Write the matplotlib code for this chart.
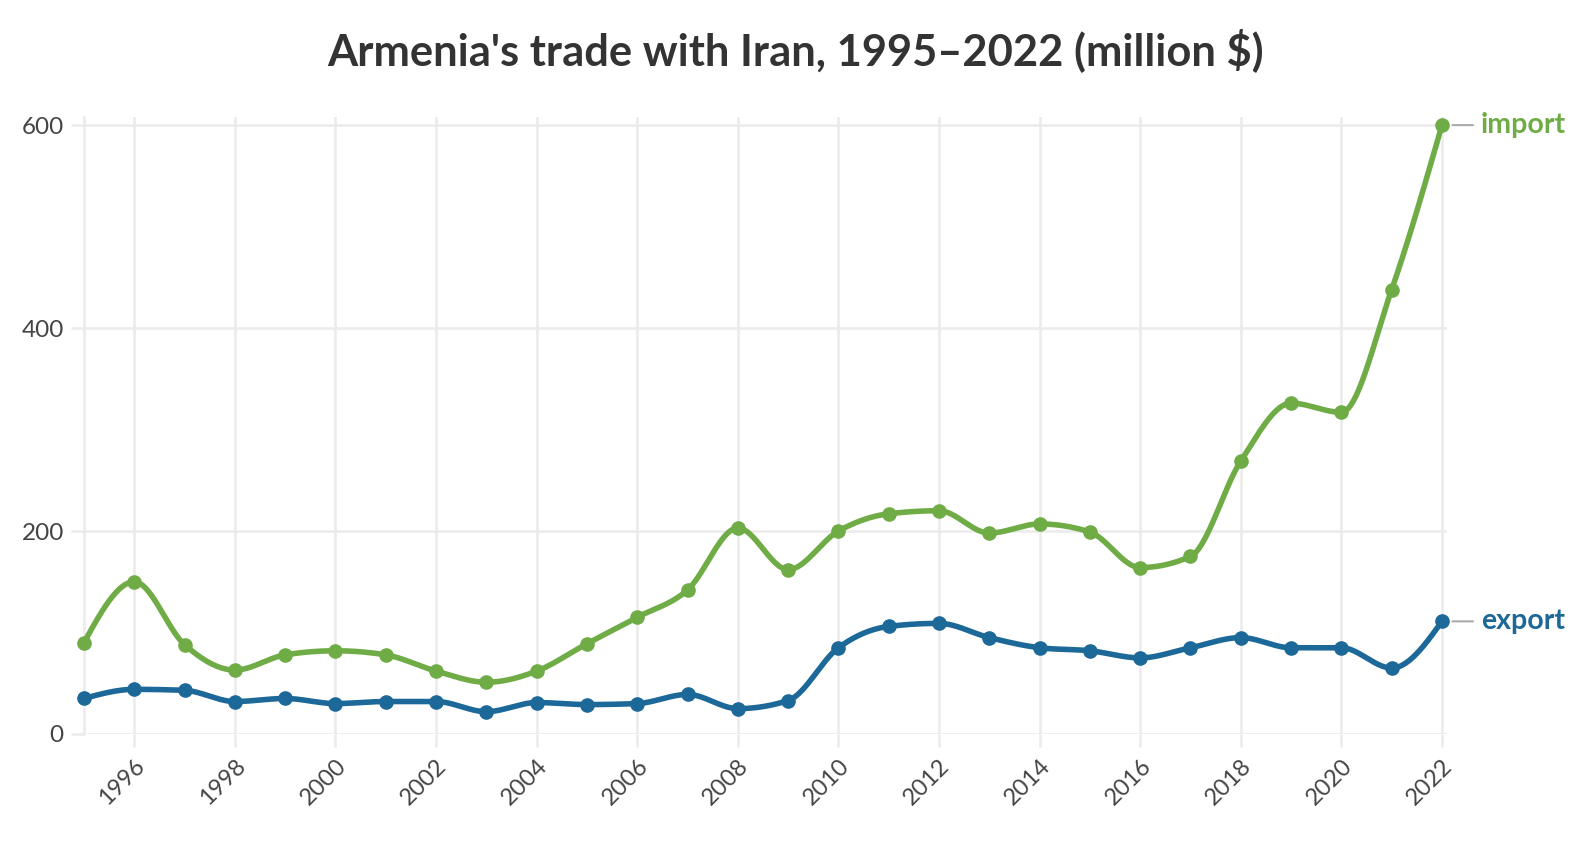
import numpy as np
import matplotlib
matplotlib.use('Agg')
import matplotlib.pyplot as plt
from matplotlib.transforms import ScaledTranslation

years = list(range(1995, 2023))
imports = [90, 150, 88, 63, 78, 82, 78, 62, 51, 62, 89, 115, 142, 203, 162, 200,
           217, 220, 198, 207, 199, 164, 175, 269, 326, 317, 438, 600]
exports = [35, 44, 43, 32, 35, 30, 32, 32, 22, 31, 29, 30, 39, 25, 33, 85,
           106, 109, 95, 85, 82, 75, 85, 95, 85, 85, 65, 111]
series_names = ['import', 'export']
series_colors = ['#6fac46', '#1c6898']
xtick_years = list(range(1996, 2023, 2))
ytick_vals = [0, 200, 400, 600]

GRID = '#ebebeb'
plt.rcParams['font.family'] = ['Lato', 'DejaVu Sans']


def monotone_x(x, y, n=30):
    # same idea as d3.curveMonotoneX
    x = np.asarray(x, float)
    y = np.asarray(y, float)
    h = np.diff(x)
    s = np.diff(y) / h
    t = np.zeros(len(x))
    for i in range(1, len(x) - 1):
        s0, s1 = s[i - 1], s[i]
        p = (s0 * h[i] + s1 * h[i - 1]) / (h[i - 1] + h[i])
        t[i] = (np.sign(s0) + np.sign(s1)) * min(abs(s0), abs(s1), 0.5 * abs(p))
    t[0] = (3 * s[0] - t[1]) / 2
    t[-1] = (3 * s[-1] - t[-2]) / 2
    xs, ys = [], []
    for i in range(len(x) - 1):
        u = np.linspace(0, 1, n, endpoint=(i == len(x) - 2))
        h00 = 2 * u**3 - 3 * u**2 + 1
        h10 = u**3 - 2 * u**2 + u
        h01 = -2 * u**3 + 3 * u**2
        h11 = u**3 - u**2
        xs.append(x[i] + u * h[i])
        ys.append(h00 * y[i] + h10 * h[i] * t[i] + h01 * y[i + 1] + h11 * h[i] * t[i + 1])
    return np.concatenate(xs), np.concatenate(ys)


fig = plt.figure(figsize=(15.92, 8.42), dpi=100)
ax = fig.add_axes([84 / 1592, 1 - 734 / 842, (1447 - 84) / 1592, (734 - 117) / 842])

for vals, name, col in zip([imports, exports], series_names, series_colors):
    sx, sy = monotone_x(years, vals)
    ax.plot(sx, sy, color=col, lw=4.0, clip_on=False, zorder=3, solid_capstyle='round')
    ax.plot(years, vals, 'o', color=col, ms=9.5, clip_on=False, zorder=4)
    ax.annotate('', xy=(years[-1], vals[-1]), xytext=(31, 0), textcoords='offset pixels',
                arrowprops=dict(arrowstyle='-', color='#aaaaaa', lw=1.5,
                                shrinkA=0, shrinkB=7.5))
    ax.annotate(name, xy=(years[-1], vals[-1]), xytext=(39, 0), textcoords='offset pixels',
                color=col, fontsize=20.5, fontweight='bold', va='center', ha='left',
                annotation_clip=False)

ax.set_xlim(1995, 2022.1)
ax.set_ylim(0, 608)
ax.set_xticks(xtick_years)
ax.set_xticklabels([str(y) for y in xtick_years], rotation=45, ha='right',
                   rotation_mode='anchor', va='top')
shift = ScaledTranslation(6 / 100, -2 / 100, fig.dpi_scale_trans)
for lab in ax.get_xticklabels():
    lab.set_transform(lab.get_transform() + shift)
ax.set_yticks(ytick_vals)
ax.grid(True, color=GRID, lw=1.8)
ax.set_axisbelow(True)
ax.tick_params(axis='both', length=9.5, width=1.8, color=GRID, labelcolor='#444444',
               labelsize=17.5)
ax.tick_params(axis='x', labelsize=17, pad=6)
ax.tick_params(axis='y', pad=5)
for sp in ['top', 'right', 'bottom']:
    ax.spines[sp].set_visible(False)
ax.spines['left'].set_color(GRID)
ax.spines['left'].set_linewidth(1.8)

fig.text(0.5, 1 - 50 / 842, "Armenia's trade with Iran, 1995\u20132022 (million $)",
         ha='center', va='center', fontsize=31.3, fontweight='bold', color='#333333')

fig.savefig('out.png', dpi=100)
